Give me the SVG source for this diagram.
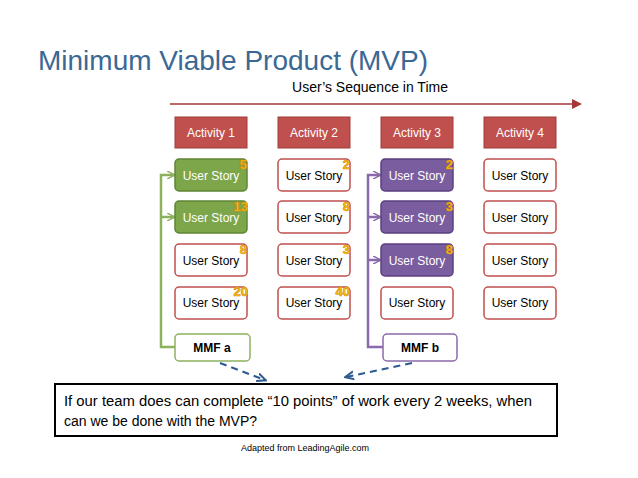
<svg xmlns="http://www.w3.org/2000/svg" width="638" height="478" viewBox="0 0 638 478">
<defs>
<marker id="ar" markerWidth="10" markerHeight="10" refX="8" refY="5" orient="auto" markerUnits="userSpaceOnUse"><path d="M0,0 L10,5 L0,10 z" fill="#a5373a"/></marker>
<marker id="ag" markerWidth="8" markerHeight="8" refX="7" refY="4" orient="auto" markerUnits="userSpaceOnUse"><path d="M0,0 L8,4 L0,8" fill="none" stroke="#8db25e" stroke-width="1.5"/></marker>
<marker id="ap" markerWidth="8" markerHeight="8" refX="7" refY="4" orient="auto" markerUnits="userSpaceOnUse"><path d="M0,0 L8,4 L0,8" fill="none" stroke="#8a6aaa" stroke-width="1.5"/></marker>
<marker id="ab" markerWidth="10" markerHeight="10" refX="8" refY="5" orient="auto" markerUnits="userSpaceOnUse"><path d="M0,1 L9,5 L0,9" fill="none" stroke="#2e5a8f" stroke-width="2"/></marker>
</defs>
<style>
text{font-family:"Liberation Sans",Arial,sans-serif}
.act rect{fill:#c0504d;stroke:#a03c3a}
.act text{fill:#fff;font-size:12px;text-anchor:middle}
.us rect{fill:#fff;stroke:#c0504d;stroke-width:1.5}
.us text{fill:#000;font-size:12px;text-anchor:middle}
.g rect{fill:#7da54a;stroke:#5f8536}
.g text{fill:#fff}
.p rect{fill:#7a5d9e;stroke:#5a4080}
.p text{fill:#fff}
.us text.n{font-size:13px;font-weight:bold;fill:#f7c21a;stroke:#d98a00;stroke-width:0.6;text-anchor:end}
</style>
<rect width="638" height="478" fill="#fff"/>
<text x="38" y="70" font-size="28" fill="#3b6894">Minimum Viable Product (MVP)</text>
<text x="370" y="92" font-size="14" text-anchor="middle">User’s Sequence in Time</text>
<g id="connectors">
<line x1="170" y1="104" x2="580" y2="104" stroke="#a5373a" stroke-width="1.5" marker-end="url(#ar)"/>
<path d="M175,347 H161 V175 H174" fill="none" stroke="#8db25e" stroke-width="2.5" marker-end="url(#ag)"/>
<path d="M161,217 H174" fill="none" stroke="#8db25e" stroke-width="2.5" marker-end="url(#ag)"/>
<path d="M383,347 H368 V175 H380" fill="none" stroke="#8a6aaa" stroke-width="2.5" marker-end="url(#ap)"/>
<path d="M368,217 H380" fill="none" stroke="#8a6aaa" stroke-width="2.5" marker-end="url(#ap)"/>
<path d="M368,260 H380" fill="none" stroke="#8a6aaa" stroke-width="2.5" marker-end="url(#ap)"/>
<line x1="220" y1="363" x2="265" y2="380" stroke="#2e5a8f" stroke-width="2" stroke-dasharray="7,5" marker-end="url(#ab)"/>
<line x1="412" y1="363" x2="346" y2="377" stroke="#2e5a8f" stroke-width="2" stroke-dasharray="7,5" marker-end="url(#ab)"/>
</g>
<g id="a1" class="act"><rect x="175" y="117" width="72" height="31"/><text x="211" y="137">Activity 1</text></g>
<g id="a2" class="act"><rect x="278" y="117" width="72" height="31"/><text x="314" y="137">Activity 2</text></g>
<g id="a3" class="act"><rect x="381" y="117" width="72" height="31"/><text x="417" y="137">Activity 3</text></g>
<g id="a4" class="act"><rect x="484" y="117" width="72" height="31"/><text x="520" y="137">Activity 4</text></g>
<g id="s11" class="us g"><rect x="175" y="159" width="72" height="32" rx="4"/><text x="211" y="180">User Story</text><text class="n" x="247" y="169">5</text></g>
<g id="s12" class="us g"><rect x="175" y="201" width="72" height="32" rx="4"/><text x="211" y="222">User Story</text><text class="n" x="248" y="211">13</text></g>
<g id="s13" class="us"><rect x="175" y="244" width="72" height="32" rx="4"/><text x="211" y="265">User Story</text><text class="n" x="247" y="254">8</text></g>
<g id="s14" class="us"><rect x="175" y="287" width="72" height="32" rx="4"/><text x="211" y="307">User Story</text><text class="n" x="248" y="296">20</text></g>
<g id="s21" class="us"><rect x="278" y="159" width="72" height="32" rx="4"/><text x="314" y="180">User Story</text><text class="n" x="350" y="169">2</text></g>
<g id="s22" class="us"><rect x="278" y="201" width="72" height="32" rx="4"/><text x="314" y="222">User Story</text><text class="n" x="350" y="211">8</text></g>
<g id="s23" class="us"><rect x="278" y="244" width="72" height="32" rx="4"/><text x="314" y="265">User Story</text><text class="n" x="350" y="254">3</text></g>
<g id="s24" class="us"><rect x="278" y="287" width="72" height="32" rx="4"/><text x="314" y="307">User Story</text><text class="n" x="350" y="296">40</text></g>
<g id="s31" class="us p"><rect x="381" y="159" width="72" height="32" rx="4"/><text x="417" y="180">User Story</text><text class="n" x="453" y="169">2</text></g>
<g id="s32" class="us p"><rect x="381" y="201" width="72" height="32" rx="4"/><text x="417" y="222">User Story</text><text class="n" x="453" y="211">3</text></g>
<g id="s33" class="us p"><rect x="381" y="244" width="72" height="32" rx="4"/><text x="417" y="265">User Story</text><text class="n" x="453" y="254">8</text></g>
<g id="s34" class="us"><rect x="381" y="287" width="72" height="32" rx="4"/><text x="417" y="307">User Story</text></g>
<g id="s41" class="us"><rect x="484" y="159" width="72" height="32" rx="4"/><text x="520" y="180">User Story</text></g>
<g id="s42" class="us"><rect x="484" y="201" width="72" height="32" rx="4"/><text x="520" y="222">User Story</text></g>
<g id="s43" class="us"><rect x="484" y="244" width="72" height="32" rx="4"/><text x="520" y="265">User Story</text></g>
<g id="s44" class="us"><rect x="484" y="287" width="72" height="32" rx="4"/><text x="520" y="307">User Story</text></g>
<g id="mmfa"><rect x="175" y="334" width="75" height="27" rx="4" fill="#fff" stroke="#8db25e" stroke-width="1.5"/><text x="212" y="352" font-size="12" font-weight="bold" text-anchor="middle">MMF a</text></g>
<g id="mmfb"><rect x="383" y="334" width="74" height="27" rx="4" fill="#fff" stroke="#8a6aaa" stroke-width="1.5"/><text x="420" y="352" font-size="12" font-weight="bold" text-anchor="middle">MMF b</text></g>
<g id="question"><rect x="55" y="384" width="502" height="52" fill="#fff" stroke="#000" stroke-width="2"/>
<text x="64" y="406" font-size="14" textLength="468" lengthAdjust="spacingAndGlyphs">If our team does can complete “10 points” of work every 2 weeks, when</text>
<text x="64" y="426" font-size="14">can we be done with the MVP?</text></g>
<text x="305" y="451" font-size="9" text-anchor="middle">Adapted from LeadingAgile.com</text>
</svg>
